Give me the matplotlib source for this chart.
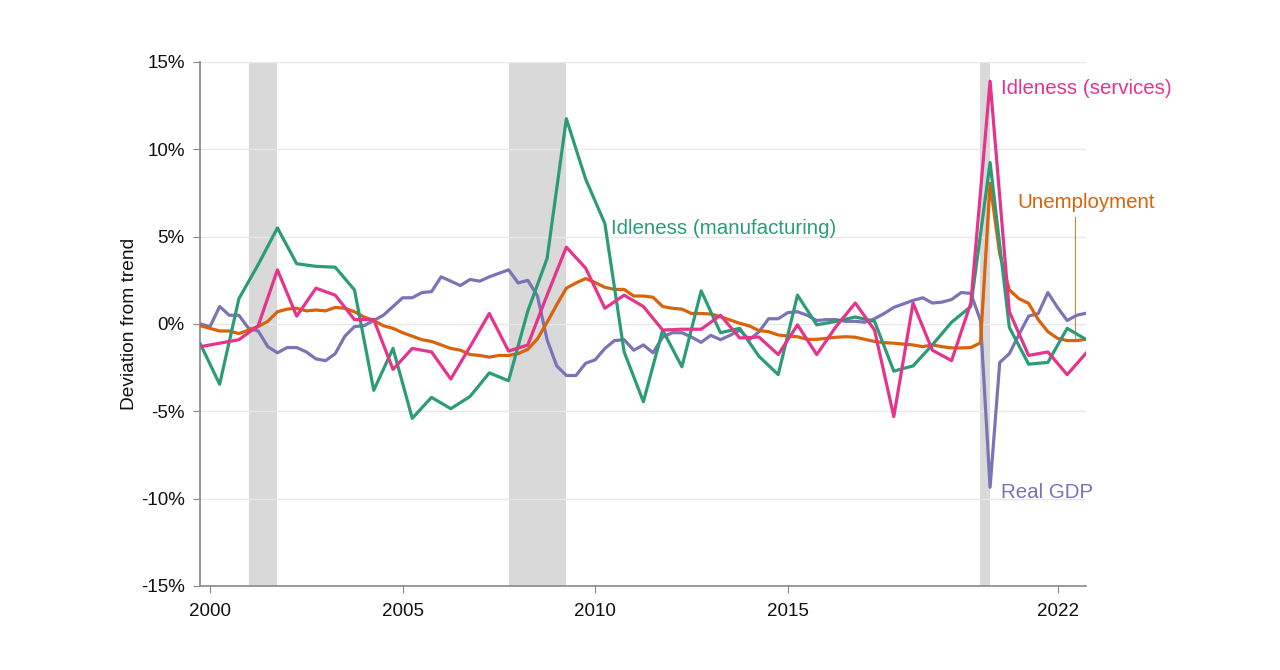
import numpy as np
import matplotlib
matplotlib.use("Agg")
import matplotlib.pyplot as plt

plt.rcParams['font.family'] = ['Liberation Sans', 'DejaVu Sans']

# quarterly series, 1999Q4 .. 2022Q4 (dated at quarter start)
t_q = 1999.75 + 0.25 * np.arange(93)
gdp = [0.0, -0.15, 1.0, 0.5, 0.5, -0.25, -0.4, -1.3, -1.65, -1.35,
       -1.35, -1.6, -2.0, -2.1, -1.7, -0.7, -0.15, -0.1, 0.2, 0.5,
       1.0, 1.5, 1.5, 1.8, 1.85, 2.7, 2.45, 2.2, 2.55, 2.45,
       2.7, 2.9, 3.1, 2.35, 2.5, 1.6, -0.9, -2.4, -2.95, -2.95,
       -2.25, -2.05, -1.4, -0.95, -0.9, -1.5, -1.2, -1.65, -0.75, -0.5,
       -0.5, -0.75, -1.05, -0.65, -0.9, -0.65, -0.35, -0.9, -0.45, 0.3,
       0.3, 0.65, 0.7, 0.5, 0.2, 0.25, 0.25, 0.15, 0.15, 0.1,
       0.3, 0.6, 0.95, 1.15, 1.35, 1.5, 1.2, 1.25, 1.4, 1.8,
       1.75, 0.2, -9.35, -2.2, -1.7, -0.6, 0.45, 0.6, 1.8, 0.95,
       0.2, 0.5, 0.62]
unemp = [-0.1, -0.25, -0.4, -0.4, -0.55, -0.35, -0.15, 0.15, 0.7, 0.85,
         0.9, 0.75, 0.8, 0.75, 0.95, 0.9, 0.7, 0.4, 0.2, -0.1,
         -0.25, -0.5, -0.7, -0.9, -1.0, -1.2, -1.4, -1.5, -1.75, -1.8,
         -1.9, -1.8, -1.8, -1.7, -1.45, -0.85, 0.1, 1.1, 2.05, 2.35,
         2.6, 2.37, 2.1, 1.98, 1.98, 1.6, 1.6, 1.53, 1.0, 0.9,
         0.85, 0.6, 0.6, 0.57, 0.42, 0.23, 0.04, -0.11, -0.38, -0.44,
         -0.63, -0.69, -0.73, -0.88, -0.88, -0.82, -0.76, -0.73, -0.76, -0.88,
         -1.0, -1.07, -1.1, -1.15, -1.2, -1.3, -1.2, -1.3, -1.37, -1.37,
         -1.35, -1.08, 8.05, 4.0, 1.95, 1.45, 1.18, 0.25, -0.44, -0.82,
         -0.95, -0.95, -0.88]

# half-yearly series, 1999Q4 .. 2022Q4
t_h = 1999.75 + 0.5 * np.arange(47)
idle_serv = [-1.3, -1.1, -0.9, -0.1, 3.1, 0.45, 2.05, 1.65, 0.25, 0.25,
             -2.6, -1.4, -1.6, -3.15, -1.3, 0.6, -1.55, -1.2, 1.65, 4.4,
             3.2, 0.9, 1.65, 1.0, -0.35, -0.3, -0.3, 0.5, -0.8, -0.75,
             -1.75, -0.05, -1.75, -0.15, 1.2, -0.35, -5.3, 1.2, -1.5, -2.1,
             1.2, 13.9, 0.7, -1.8, -1.6, -2.9, -1.65]
idle_manu = [-1.15, -3.45, 1.45, 3.4, 5.5, 3.45, 3.3, 3.25, 1.95, -3.8,
             -1.4, -5.4, -4.2, -4.85, -4.15, -2.8, -3.25, 0.75, 3.75, 11.75,
             8.3, 5.75, -1.6, -4.45, -0.35, -2.45, 1.9, -0.5, -0.25, -1.85,
             -2.9, 1.65, -0.05, 0.15, 0.4, 0.15, -2.7, -2.4, -1.2, 0.1,
             1.0, 9.25, -0.2, -2.3, -2.2, -0.25, -0.9]

recessions = [(2001.0, 2001.75), (2007.75, 2009.25), (2020.0, 2020.25)]
xticks = [2000, 2005, 2010, 2015, 2022]
yticks = [-15, -10, -5, 0, 5, 10, 15]

c_green, c_orange, c_purple, c_pink = '#2b9c76', '#d9620a', '#7a74b6', '#e4348c'

fig = plt.figure(figsize=(12.8, 6.7), dpi=100)
ax = fig.add_axes([0.15625, 0.1254, 0.6925, 0.7821])

for a, b in recessions:
    ax.axvspan(a, b, color='#d9d9d9', lw=0, zorder=0)

lw = 2.3
ax.plot(t_q, gdp, color=c_purple, lw=lw, zorder=3)
ax.plot(t_q, unemp, color=c_orange, lw=lw, zorder=3)
ax.plot(t_h, idle_manu, color=c_green, lw=lw, zorder=3)
ax.plot(t_h, idle_serv, color=c_pink, lw=lw, zorder=3)

ax.set_xlim(1999.74, 2022.75)
ax.set_ylim(-15, 15)
ax.set_xticks(xticks)
ax.set_xticklabels([str(x) for x in xticks])
ax.set_yticks(yticks)
ax.set_yticklabels(['%d%%' % v for v in yticks])
ax.yaxis.grid(True, color='#e8e8e8', lw=1)
ax.set_axisbelow(True)
for s in ['top', 'right']:
    ax.spines[s].set_visible(False)
for s in ['left', 'bottom']:
    ax.spines[s].set_color('#888888')
    ax.spines[s].set_linewidth(1.2)
ax.tick_params(axis='both', colors='#888888', labelcolor='#111111',
               labelsize=13.5, length=5)
ax.tick_params(axis='x', pad=7)
ax.tick_params(axis='y', pad=6)
ax.set_ylabel('Deviation from trend', fontsize=13.8, color='#111111', labelpad=2)

fs = 14.8
ax.text(2020.53, 13.5, 'Idleness (services)', color=c_pink, fontsize=fs, va='center')
ax.text(2020.95, 6.93, 'Unemployment', color=c_orange, fontsize=fs, va='center')
ax.text(2010.4, 5.44, 'Idleness (manufacturing)', color=c_green, fontsize=fs, va='center')
ax.text(2020.53, -9.67, 'Real GDP', color=c_purple, fontsize=fs, va='center')
ax.plot([2022.45, 2022.45], [6.1, -0.85], color=c_orange, lw=0.8, alpha=0.8, zorder=2)

fig.savefig('out.png', dpi=100)
